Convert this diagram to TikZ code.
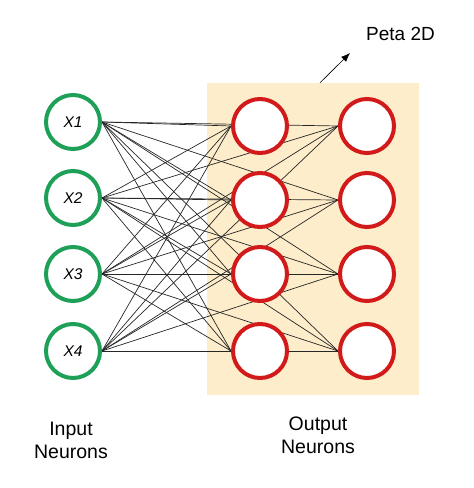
\documentclass[tikz,border=0pt]{standalone}
\usepackage{fontspec}
\setmainfont{Liberation Sans}
\usetikzlibrary{arrows.meta, positioning, calc}
\pgfdeclarelayer{shade}
\pgfdeclarelayer{wires}
\pgfsetlayers{shade,wires,main}

\definecolor{somgreen}{RGB}{30,160,88}
\definecolor{somred}{RGB}{210,26,26}
\definecolor{mapbeige}{RGB}{253,237,202}

\tikzset{
    inneuron/.style={circle, draw=somgreen, fill=white, line width=4bp, minimum size=54bp, inner sep=0pt,
        font=\fontsize{15.5bp}{18bp}\selectfont\itshape},
    outneuron/.style={circle, draw=somred, fill=white, line width=4bp, minimum size=54bp, inner sep=0pt},
    wire/.style={draw=black!85, line width=0.7bp},
    caption/.style={align=center, inner sep=0pt, font=\fontsize{19.5bp}{23bp}\selectfont}
}

\begin{document}
\begin{tikzpicture}[x=1bp, y=-1bp]
    \useasboundingbox (0,0) rectangle (474,488);

    % input layer
    \node[inneuron] (x1) at (73,122) {X1};
    \node[inneuron] (x2) at (73,198) {X2};
    \node[inneuron] (x3) at (73,274) {X3};
    \node[inneuron] (x4) at (73,351) {X4};

    % output layer, two columns
    \node[outneuron] (a1) at (260,126) {};
    \node[outneuron] (a2) at (260,200) {};
    \node[outneuron] (a3) at (260,274) {};
    \node[outneuron] (a4) at (260,351) {};
    \node[outneuron] (b1) at (367,126) {};
    \node[outneuron] (b2) at (367,200) {};
    \node[outneuron] (b3) at (367,274) {};
    \node[outneuron] (b4) at (367,351) {};

    % the 2D map
    \begin{pgfonlayer}{shade}
        \node[fill=mapbeige, minimum width=212bp, minimum height=312bp, inner sep=0pt] (map) at (313,239) {};
    \end{pgfonlayer}

    \begin{pgfonlayer}{wires}
        \foreach \i in {1,...,4}
            \foreach \j in {1,...,4} {
                \draw[wire] (x\i.east) -- (a\j.west);
                \draw[wire] (x\i.east) -- (b\j.west);
            }
    \end{pgfonlayer}

    \node[anchor=base west, inner sep=0pt, font=\fontsize{19bp}{22bp}\selectfont] (peta) at (366,41) {Peta 2D};
    \coordinate (petatip) at (350,53);
    \draw[-{Latex[length=9bp, width=7bp]}, line width=0.6bp] ($(map.north)+(7,0)$) -- (petatip);

    \node[caption, anchor=base] (inlabel) at (71,458) {Input\\Neurons};
    \node[caption, anchor=base] (outlabel) at (318,453) {Output\\Neurons};
\end{tikzpicture}
\end{document}
